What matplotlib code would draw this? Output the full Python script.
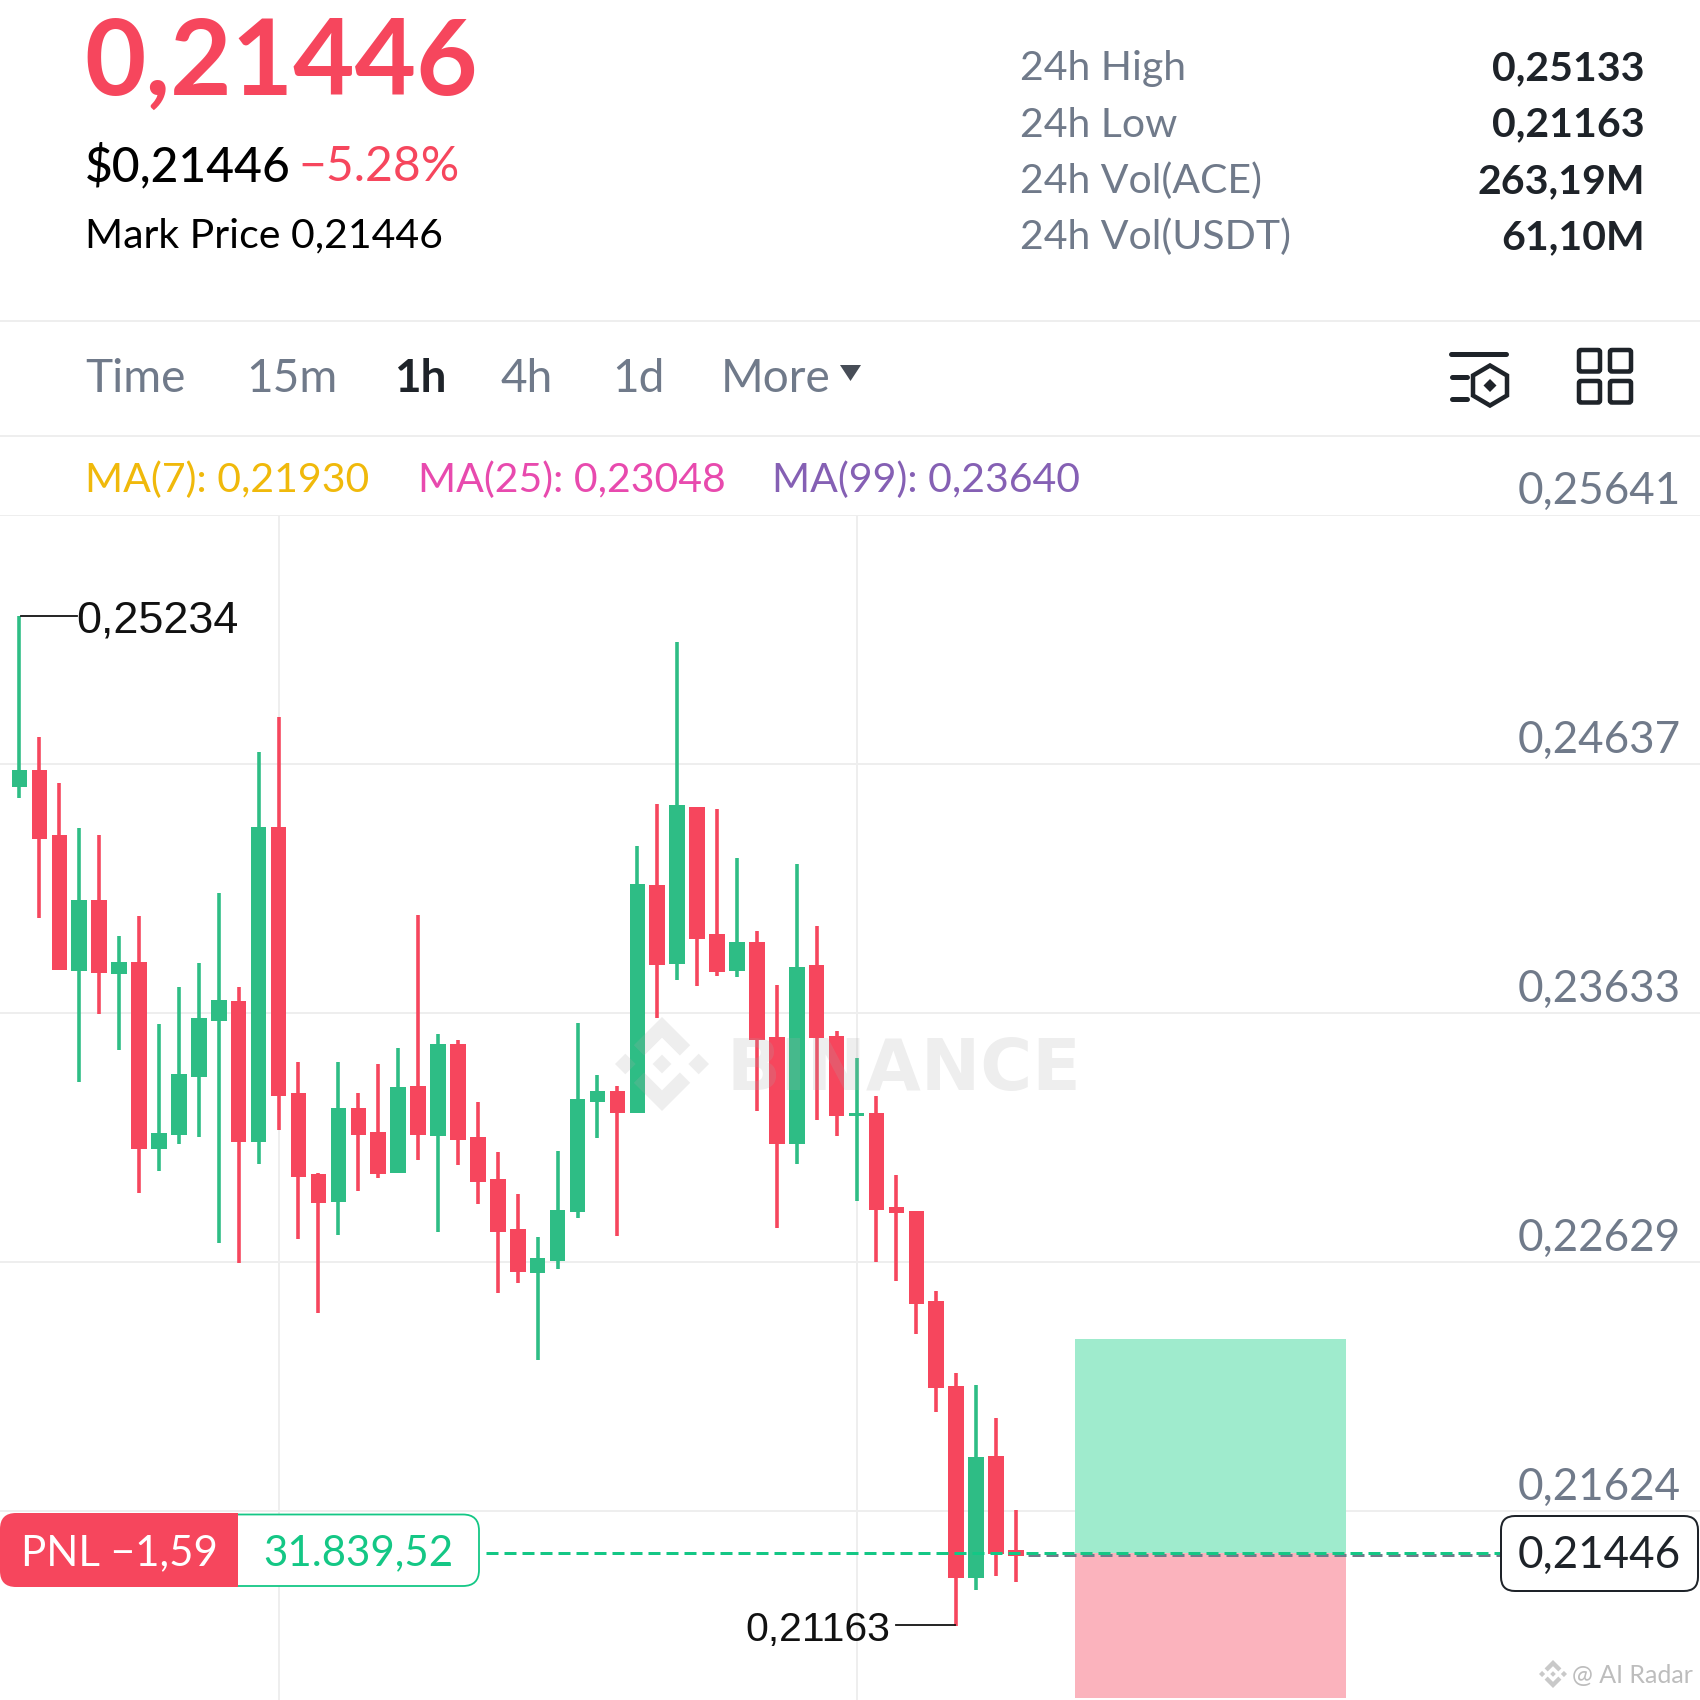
import matplotlib
matplotlib.use("Agg")
import matplotlib.pyplot as plt
from matplotlib.patches import FancyBboxPatch, Polygon, Rectangle

plt.rcParams['font.family'] = ['Lato', 'DejaVu Sans']
plt.rcParams['lines.scale_dashes'] = False

# candles
highs = [0.25234, 0.24747, 0.24561, 0.24378, 0.24352, 0.23944, 0.24024, 0.23589, 0.23739, 0.23833,
         0.24118, 0.23739, 0.24687, 0.24827, 0.23437, 0.22988, 0.23437, 0.23312, 0.23427, 0.23491,
         0.24028, 0.23547, 0.23523, 0.23274, 0.23074, 0.22902, 0.22728, 0.23075, 0.23594, 0.23383,
         0.23337, 0.24305, 0.24475, 0.25130, 0.24462, 0.24455, 0.24259, 0.23964, 0.23745, 0.24234,
         0.23982, 0.23560, 0.23450, 0.23298, 0.22979, 0.22836, 0.22514, 0.22183, 0.22134, 0.22000,
         0.21630]
lows = [0.24501, 0.24018, 0.23807, 0.23356, 0.23629, 0.23485, 0.22906, 0.22994, 0.23106, 0.23134,
        0.22705, 0.22623, 0.23024, 0.23160, 0.22723, 0.22423, 0.22739, 0.22916, 0.22966, 0.22986,
        0.23042, 0.22749, 0.23020, 0.22861, 0.22505, 0.22543, 0.22234, 0.22602, 0.22807, 0.23129,
        0.22733, 0.23231, 0.23614, 0.23766, 0.23743, 0.23781, 0.23779, 0.23236, 0.22766, 0.23023,
        0.23203, 0.23139, 0.22874, 0.22630, 0.22553, 0.22337, 0.22026, 0.21163, 0.21307, 0.21361,
        0.21337]
body_tops = [0.24613, 0.24613, 0.24350, 0.24088, 0.24088, 0.23837, 0.23837, 0.23150, 0.23387, 0.23613,
             0.23685, 0.23681, 0.24384, 0.24384, 0.23312, 0.22984, 0.23252, 0.23252, 0.23154, 0.23336,
             0.23340, 0.23507, 0.23509, 0.23132, 0.22962, 0.22761, 0.22645, 0.22838, 0.23285, 0.23319,
             0.23319, 0.24154, 0.24149, 0.24470, 0.24462, 0.23951, 0.23920, 0.23920, 0.23535, 0.23817,
             0.23825, 0.23542, 0.23231, 0.23231, 0.22851, 0.22836, 0.22471, 0.22129, 0.21844, 0.21846,
             0.21466]
body_bottoms = [0.24545, 0.24336, 0.23807, 0.23803, 0.23793, 0.23791, 0.23084, 0.23084, 0.23142, 0.23376,
                0.23601, 0.23114, 0.23114, 0.23300, 0.22970, 0.22867, 0.22869, 0.23142, 0.22984, 0.22986,
                0.23140, 0.23138, 0.23120, 0.22950, 0.22749, 0.22587, 0.22586, 0.22635, 0.22830, 0.23275,
                0.23231, 0.23231, 0.23828, 0.23830, 0.23933, 0.23797, 0.23802, 0.23524, 0.23105, 0.23105,
                0.23532, 0.23216, 0.23218, 0.22838, 0.22825, 0.22460, 0.22121, 0.21353, 0.21353, 0.21453,
                0.21445]
is_green = [1, 0, 0, 1, 0, 1, 0, 1, 1, 1,
            1, 0, 1, 0, 0, 0, 1, 0, 0, 1,
            0, 1, 0, 0, 0, 0, 1, 1, 1, 1,
            0, 1, 0, 1, 0, 0, 1, 0, 0, 1,
            0, 0, 1, 0, 0, 0, 0, 0, 1, 0,
            0]

axis_prices = [0.25641, 0.24637, 0.23633, 0.22629, 0.21624]
axis_labels = ['0,25641', '0,24637', '0,23633', '0,22629', '0,21624']
last_price = 0.21446
entry_price = 0.21456
tp_price = 0.22319
sl_price = 0.20871

stat_names = ['24h High', '24h Low', '24h Vol(ACE)', '24h Vol(USDT)']
stat_values = ['0,25133', '0,21163', '263,19M', '61,10M']
tab_names = ['Time', '15m', '1h', '4h', '1d', 'More']

RED = '#F6465D'
GREEN = '#2EBD85'
LINE_GREEN = '#14C785'
GRAY = '#707A8A'
DARK = '#1E2329'
GRID = '#EEEEEE'


def pt(px):
    return px * 72 / 100


fig = plt.figure(figsize=(17, 17), dpi=100)

# chart, y scale taken from the axis labels
ax = fig.add_axes([0, 0, 1, (1700 - 515) / 1700])
ax.set_xlim(-0.977, 84.32)
ax.set_ylim(0.20863, 0.25641)
ax.axis('off')

for p in axis_prices:
    ax.axhline(p, color=GRID, lw=pt(2), zorder=1)
for x in [13.0, 42.0]:
    ax.axvline(x, color=GRID, lw=pt(2), zorder=1)

colors = [GREEN if g else RED for g in is_green]
idx = list(range(len(highs)))
ax.vlines(idx, lows, highs, colors=colors, lw=pt(3.6), zorder=3)
ax.bar(idx, [t - b for t, b in zip(body_tops, body_bottoms)], bottom=body_bottoms,
       width=0.78, color=colors, zorder=3)

# position zones
ax.bar(52.95, tp_price - entry_price, bottom=entry_price, width=13.6, align='edge', color='#9FEBCD', zorder=2)
ax.bar(52.95, sl_price - entry_price, bottom=entry_price, width=13.6, align='edge', color='#FBB3BD', zorder=2)

# price lines
ax.plot([23.4, 74.5], [entry_price, entry_price], color=LINE_GREEN, lw=pt(3),
        linestyle=(0, (pt(12), pt(6))), zorder=5)
ax.plot([50.6, 74.5], [last_price, last_price], color=GRAY, lw=pt(3),
        linestyle=(0, (pt(12), pt(6))), zorder=4)

for p, lbl in zip(axis_prices, axis_labels):
    ax.annotate(lbl, (0.9885, p), xycoords=ax.get_yaxis_transform(), xytext=(0, pt(11)),
                textcoords='offset points', ha='right', va='baseline', color=GRAY, fontsize=pt(44), zorder=6)

# everything else is placed in pixels
ov = fig.add_axes([0, 0, 1, 1])
ov.set_xlim(0, 1700)
ov.set_ylim(1700, 0)
ov.axis('off')
ov.patch.set_alpha(0)


def txt(x, y, s, size, color=DARK, weight='normal', ha='left', **kw):
    ov.text(x, y, s, fontsize=pt(size), color=color, fontweight=weight, ha=ha, va='baseline', **kw)


def logo(cx, cy, r, color, alpha):
    shapes = [[(0, .2), (.2, 0), (0, -.2), (-.2, 0)],
              [(-.78, .22), (-.56, 0), (-.78, -.22), (-1, 0)],
              [(.78, .22), (1, 0), (.78, -.22), (.56, 0)],
              [(0, 1), (.6, .4), (.38, .18), (0, .56), (-.38, .18), (-.6, .4)],
              [(0, -1), (.6, -.4), (.38, -.18), (0, -.56), (-.38, -.18), (-.6, -.4)]]
    for s in shapes:
        ov.add_patch(Polygon([(cx + a * r, cy + b * r) for a, b in s], color=color, alpha=alpha, lw=0))


# header
txt(84, 95, '0,21446', 106, RED, 'bold')
txt(85, 181, '$0,21446', 48, '#000000', 'medium')
txt(298, 181, '\u22125.28%', 48, RED)
txt(85, 247, 'Mark Price 0,21446', 41, '#000000')
for i in range(4):
    txt(1020, 80 + i * 56.5, stat_names[i], 41, GRAY)
    txt(1645, 80 + i * 56.5, stat_values[i], 41, DARK, 'bold', ha='right')

ov.plot([0, 1700], [321, 321], color=GRID, lw=pt(2))
ov.plot([0, 1700], [436, 436], color=GRID, lw=pt(2))

# tabs
tab_x = [85, 246, 394, 501, 612, 721]
for name, x in zip(tab_names, tab_x):
    if name == '1h':
        txt(x, 392, name, 46, DARK, 'bold')
    else:
        txt(x, 392, name, 46, GRAY)
ov.add_patch(Polygon([(840, 365), (861, 365), (850.5, 381)], color='#474D57', lw=0))

# icons
ov.plot([1451, 1506], [354, 354], color=DARK, lw=pt(5), solid_capstyle='round')
ov.plot([1452, 1467], [376.5, 376.5], color=DARK, lw=pt(5), solid_capstyle='round')
ov.plot([1452, 1467], [399, 399], color=DARK, lw=pt(5), solid_capstyle='round')
ov.add_patch(Polygon([(1490, 365.5), (1507, 375.5), (1507, 395.5), (1490, 405.5), (1473, 395.5), (1473, 375.5)],
                     fill=False, edgecolor=DARK, lw=pt(4.5)))
ov.add_patch(Polygon([(1490, 379), (1496.5, 385.5), (1490, 392), (1483.5, 385.5)], color=DARK, lw=0))
for x0 in [1579, 1610]:
    for y0 in [350, 381]:
        ov.add_patch(FancyBboxPatch((x0, y0), 21, 21.5, boxstyle='round,pad=0,rounding_size=2',
                                    fill=False, edgecolor=DARK, lw=pt(4.5)))

# moving averages
txt(85, 492, 'MA(7): 0,21930', 41, '#F0B90B')
txt(418, 492, 'MA(25): 0,23048', 41, '#E84AAE')
txt(772, 492, 'MA(99): 0,23640', 41, '#8560B4')

# watermark over the candles
txt(727, 1090, 'BINANCE', 71, '#AAAAAA', 'bold', alpha=0.2, family='DejaVu Sans')
logo(662, 1064, 47, '#AAAAAA', 0.2)

# high / low callouts
ov.plot([21, 77], [616, 616], color='#111111', lw=pt(1.8))
txt(76, 632, '0,25234', 45, '#111111', family='Liberation Sans')
ov.plot([896, 955], [1625, 1625], color='#111111', lw=pt(1.8))
txt(745, 1641, '0,21163', 41, '#111111', family='Liberation Sans')

# PNL tag
ov.add_patch(FancyBboxPatch((200, 1514.5), 279, 71.5, boxstyle='round,pad=0,rounding_size=16',
                            facecolor='white', edgecolor=LINE_GREEN, lw=pt(1.8)))
ov.add_patch(FancyBboxPatch((0, 1513), 100, 74, boxstyle='round,pad=0,rounding_size=16', color=RED, lw=0))
ov.add_patch(Rectangle((30, 1513), 208, 74, color=RED, lw=0))
txt(21, 1565, 'PNL \u22121,59', 42, 'white')
txt(358, 1565, '31.839,52', 42, LINE_GREEN, ha='center')

# last price tag
ov.add_patch(FancyBboxPatch((1501, 1516), 197, 75, boxstyle='round,pad=0,rounding_size=14',
                            facecolor='white', edgecolor=DARK, lw=pt(2)))
txt(1599, 1568, '0,21446', 44, DARK, ha='center')

# source mark
logo(1553, 1674, 14, '#C9C9C9', 1)
txt(1572, 1683, '@ AI Radar', 25, '#BDBDBD')

fig.savefig('out.png', dpi=100)
